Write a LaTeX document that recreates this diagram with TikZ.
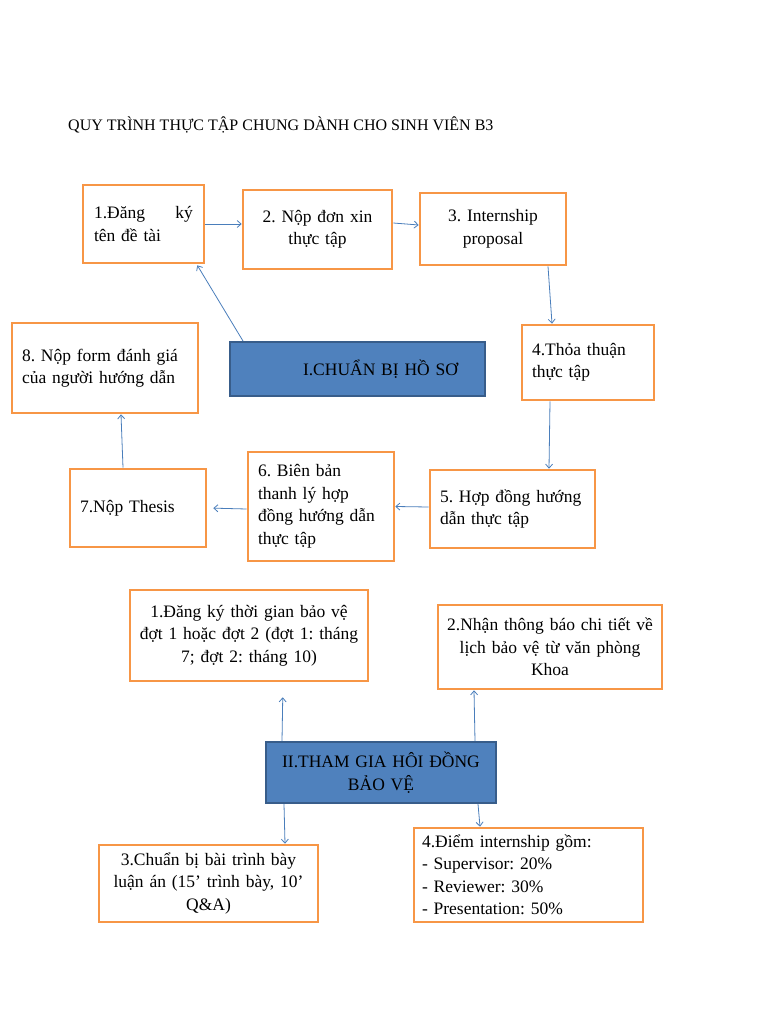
\documentclass[tikz,border=0pt]{standalone}
\usepackage{fontspec}
\setmainfont{Liberation Serif}
\usetikzlibrary{arrows.meta}
\definecolor{orng}{HTML}{F79646}
\definecolor{arr}{HTML}{4A7EBB}
\definecolor{bfill}{HTML}{4F81BD}
\definecolor{bdraw}{HTML}{385D8A}
\frenchspacing
\begin{document}
\frenchspacing
\begin{tikzpicture}[x=1pt,y=-1pt,
  obox/.style={draw=orng, line width=2.6pt, fill=white, inner xsep=10pt, inner ysep=0pt,
    font=\fontsize{17.5}{22.5}\selectfont\frenchspacing},
  bbox/.style={draw=bdraw, fill=bfill, line width=2pt, inner xsep=10pt, inner ysep=0pt,
    font=\fontsize{17.5}{22.5}\selectfont\frenchspacing},
  conn/.style={draw=arr, line width=0.8pt, -{Straight Barb[length=4pt,width=7pt]}}]
\useasboundingbox (0,0) rectangle (768,1024);
\fill[white] (0,0) rectangle (768,1024);

\node[anchor=west, inner sep=0pt, font=\fontsize{16}{20}\selectfont] (title) at (68,125)
  {QUY TRÌNH THỰC TẬP CHUNG DÀNH CHO SINH VIÊN B3};

% Part I
\node[obox, minimum width=121, minimum height=78, text width=99pt, align=left] (b1) at (143.5,224)
  {1.Đăng\hskip 0pt plus 1fill ký\\tên đề tài};
\node[obox, minimum width=149, minimum height=79, text width=129pt, align=center] (b2) at (317.5,229.5)
  {2. Nộp đơn xin\\thực tập};
\node[obox, minimum width=146, minimum height=72, text width=126pt, align=center] (b3) at (493,229)
  {3. Internship\\proposal};
\node[obox, minimum width=132, minimum height=75, text width=112pt, align=left] (b4) at (588,362.5)
  {4.Thỏa thuận\\thực tập};
\node[bbox, minimum width=255, minimum height=54, text width=235pt, align=left] (p1) at (357.5,369)
  {\hspace*{63pt}I.CHUẨN BỊ HỒ SƠ};
\node[obox, minimum width=186, minimum height=90, text width=166pt, align=left] (b8) at (105,368)
  {8. Nộp form đánh giá\\của người hướng dẫn};
\node[obox, minimum width=165, minimum height=78, text width=145pt, align=left] (b5) at (512.5,509)
  {5. Hợp đồng hướng\\dẫn thực tập};
\node[obox, minimum width=146, minimum height=109, text width=126pt, align=left] (b6) at (321,506.5)
  {6. Biên bản\\thanh lý hợp\\đồng hướng dẫn\\thực tập};
\node[obox, minimum width=136, minimum height=78, text width=116pt, align=left] (b7) at (138,508)
  {7.Nộp Thesis};

\draw[conn] (b1.east) -- (b1.east -| b2.west);
\draw[conn] ([yshift=6.5pt]b2.east) -- ([yshift=4pt]b3.west);
\draw[conn] ([xshift=55pt]b3.south) -- ([xshift=-36pt]b4.north);
\draw[conn] ([xshift=-38pt]b4.south) -- ([xshift=36.5pt]b5.north);
\draw[conn] ([yshift=2pt]b5.west) -- (b6.east);
\draw[conn, shorten >=6pt] ([yshift=-2.5pt]b6.west) -- ([yshift=0pt]b7.east);
\draw[conn] ([xshift=-15pt]b7.north) -- ([xshift=16pt]b8.south);
\draw[conn] ([xshift=-114.5pt]p1.north) -- ([xshift=-8pt,yshift=-1pt]b1.south east);

% Part II
\node[obox, minimum width=238, minimum height=91, text width=226pt, inner xsep=6pt, align=center] (c1) at (249,635.5)
  {1.Đăng ký thời gian bảo vệ\\đợt 1 hoặc đợt 2 (đợt 1: tháng\\7; đợt 2: tháng 10)};
\node[obox, minimum width=224, minimum height=84, text width=212pt, inner xsep=6pt, align=center] (c2) at (550,647)
  {2.Nhận thông báo chi tiết về\\lịch bảo vệ từ văn phòng\\Khoa};
\node[bbox, minimum width=230, minimum height=61, text width=210pt, align=center] (p2) at (381,772.5)
  {II.THAM GIA HÔI ĐỒNG\\BẢO VỆ};
\node[obox, minimum width=219, minimum height=77, text width=207pt, inner xsep=6pt, align=center] (c3) at (208.5,883.5)
  {3.Chuẩn bị bài trình bày\\luận án (15’ trình bày, 10’\\Q\&A)};
\node[obox, minimum width=229, minimum height=94, text width=213pt, inner xsep=8pt, align=left] (c4) at (528.5,875)
  {4.Điểm internship gồm:\\- Supervisor: 20\%\\- Reviewer: 30\%\\- Presentation: 50\%};

\draw[conn, shorten >=15pt] ([xshift=-99pt]p2.north) -- ([xshift=34pt]c1.south);
\draw[conn] ([xshift=94pt]p2.north) -- ([xshift=-76pt]c2.south);
\draw[conn] ([xshift=-97pt]p2.south) -- ([xshift=76.5pt]c3.north);
\draw[conn] ([xshift=97pt]p2.south) -- ([xshift=-48.5pt]c4.north);
\end{tikzpicture}
\end{document}
